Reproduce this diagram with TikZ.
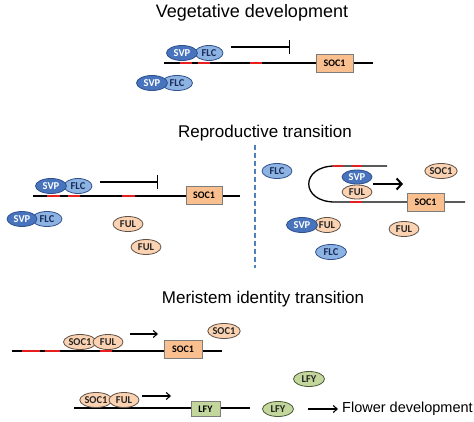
\documentclass[tikz,border=0pt]{standalone}
\usepackage{fontspec}
\setmainfont{Liberation Sans}
\newfontfamily\lblfont{Carlito}
\usetikzlibrary{shapes.geometric,arrows.meta}
\definecolor{svpfill}{RGB}{72,116,190}
\definecolor{svpdraw}{RGB}{47,82,143}
\definecolor{flcfill}{RGB}{141,179,226}
\definecolor{flctext}{RGB}{25,45,90}
\definecolor{orfill}{RGB}{251,211,178}
\definecolor{ordraw}{RGB}{95,80,70}
\definecolor{boxfill}{RGB}{250,191,143}
\definecolor{boxdraw}{RGB}{125,125,125}
\definecolor{lfyfill}{RGB}{195,214,155}
\definecolor{lfydraw}{RGB}{75,90,55}
\definecolor{redmark}{RGB}{230,30,30}
\definecolor{dashblue}{RGB}{79,129,189}
\tikzset{
  prot/.style={ellipse,inner sep=0pt,minimum height=15pt,line width=0.8pt,font=\lblfont\bfseries\fontsize{10.5}{11}\selectfont},
  svp/.style={prot,fill=svpfill,draw=svpdraw,text=white,minimum width=31pt},
  flc/.style={prot,fill=flcfill,draw=svpdraw,text=flctext,minimum width=28pt},
  ful/.style={prot,fill=orfill,draw=ordraw,text=black!85,minimum width=30pt},
  lfy/.style={prot,fill=lfyfill,draw=lfydraw,text=black!85,minimum width=31pt},
  gene/.style={rectangle,inner sep=0pt,minimum width=37pt,minimum height=18pt,fill=boxfill,draw=boxdraw,line width=0.9pt,font=\lblfont\bfseries\fontsize{10}{11}\selectfont},
  lfybox/.style={gene,fill=lfyfill,minimum width=29pt,minimum height=15pt},
  dna/.style={line width=1.3pt,black},
  red/.style={line width=2.4pt,redmark},
  repress/.style={line width=1.3pt,-{Bar[width=14pt,line width=1.3pt]}},
  act/.style={line width=1.1pt,-{Straight Barb[length=4pt,width=7pt]}},
  title/.style={font=\fontsize{17}{20}\selectfont,anchor=base},
}
\begin{document}
\begin{tikzpicture}[x=1pt,y=-1pt]
\useasboundingbox (0,0) rectangle (474,422);
% ---------- Vegetative development ----------
\node[title,font=\fontsize{18}{20}\selectfont] (t1) at (252,18) {Vegetative development};
\coordinate (a1) at (164,63);
\coordinate (a2) at (373,63);
\draw[dna] (a1) -- (a2);
\draw[red] (180,63) -- (192,63);
\draw[red] (198,63) -- (210,63);
\draw[red] (250,63) -- (262,63);
\node[flc] (flc1) at (209,53) {FLC};
\node[svp] (svp1) at (182,53) {SVP};
\coordinate (r1a) at (231,47);
\coordinate (r1b) at (290,47);
\draw[repress] (r1a) -- (r1b);
\node[gene] (soc1a) at (334.5,63) {SOC1};
\node[flc,minimum width=31pt] (flc2) at (177,83) {FLC};
\node[svp] (svp2) at (152,83) {SVP};
% ---------- Reproductive transition ----------
\node[title] (t2) at (265,138) {Reproductive transition};
\coordinate (b1) at (33,196);
\coordinate (b2) at (240,196);
\draw[dna] (b1) -- (b2);
\draw[red] (47,196) -- (60,196);
\draw[red] (68,196) -- (80,196);
\draw[red] (122,196) -- (135,196);
\node[flc] (flc3) at (78,186) {FLC};
\node[svp] (svp3) at (51,186) {SVP};
\coordinate (r2a) at (100,182);
\coordinate (r2b) at (158,182);
\draw[repress] (r2a) -- (r2b);
\node[gene,minimum width=36pt] (soc1b) at (204,195) {SOC1};
\node[flc,minimum width=30pt] (flc4) at (47,219) {FLC};
\node[svp,minimum width=30pt] (svp4) at (22,219) {SVP};
\node[ful] (ful1) at (128,224) {FUL};
\node[ful] (ful2) at (146,247) {FUL};
% dashed separator
\coordinate (s1) at (255,145);
\coordinate (s2) at (255,268);
\draw[dashblue,line width=1.2pt,dash pattern=on 5pt off 3pt] (s1) -- (s2);
% right part
\node[flc,minimum width=30pt] (flc5) at (277,171) {FLC};
\coordinate (l1) at (387,166);
\coordinate (l2) at (335,166);
\coordinate (l3) at (335,202);
\coordinate (l4) at (465,202);
\draw[dna] (l1) -- (l2) .. controls (300,166) and (300,202) .. (l3) -- (l4);
\draw[red] (333,166) -- (343,166);
\draw[red] (352,166) -- (362,166);
\draw[red] (350,202) -- (362,202);
\node[svp,minimum width=30pt,minimum height=14pt] (svp5) at (357,177) {SVP};
\node[ful,minimum height=14pt] (ful3) at (357,192) {FUL};
\coordinate (ar1) at (373,184);
\coordinate (ar2) at (403,184);
\draw[line width=2pt,-{Straight Barb[length=5pt,width=11pt]}] (ar1) -- (ar2);
\node[gene] (soc1c) at (425.5,202) {SOC1};
\node[ful,minimum width=32pt] (soc1e) at (441,171) {SOC1};
\node[ful,minimum width=27pt] (ful4) at (327,225) {FUL};
\node[svp] (svp6) at (302,225) {SVP};
\node[ful] (ful5) at (404,229) {FUL};
\node[flc,minimum width=31pt] (flc6) at (331,252) {FLC};
% ---------- Meristem identity transition ----------
\node[title] (t3) at (263,303) {Meristem identity transition};
\coordinate (c1) at (12,351);
\coordinate (c2) at (222,351);
\draw[dna] (c1) -- (c2);
\draw[red] (22,351) -- (40,351);
\draw[red] (45,351) -- (60,351);
\draw[red] (100,351) -- (112,351);
\node[ful,minimum width=33pt] (soc1f) at (80,342) {SOC1};
\node[ful] (ful6) at (108,342) {FUL};
\coordinate (ac1) at (130,334);
\coordinate (ac2) at (158,334);
\draw[act] (ac1) -- (ac2);
\node[gene,minimum width=38pt] (soc1d) at (183,349) {SOC1};
\node[ful] (soc1g) at (224,331) {SOC1};
\coordinate (e1) at (74,408);
\coordinate (e2) at (250,408);
\draw[dna] (e1) -- (e2);
\node[ful,minimum width=31pt] (soc1h) at (96,400) {SOC1};
\node[ful] (ful7) at (124,400) {FUL};
\coordinate (ae1) at (142,396);
\coordinate (ae2) at (171,396);
\draw[act] (ae1) -- (ae2);
\node[lfybox] (lfyb) at (205.5,409) {LFY};
\node[lfy] (lfy1) at (309,379) {LFY};
\node[lfy] (lfy2) at (278,409) {LFY};
\node[anchor=west,inner sep=0pt,font=\fontsize{14.5}{16}\selectfont] (fd) at (342,409) {Flower development};
\coordinate (af1) at (308,409);
\draw[act,shorten >=4pt] (af1) -- (fd.west);
\end{tikzpicture}
\end{document}
